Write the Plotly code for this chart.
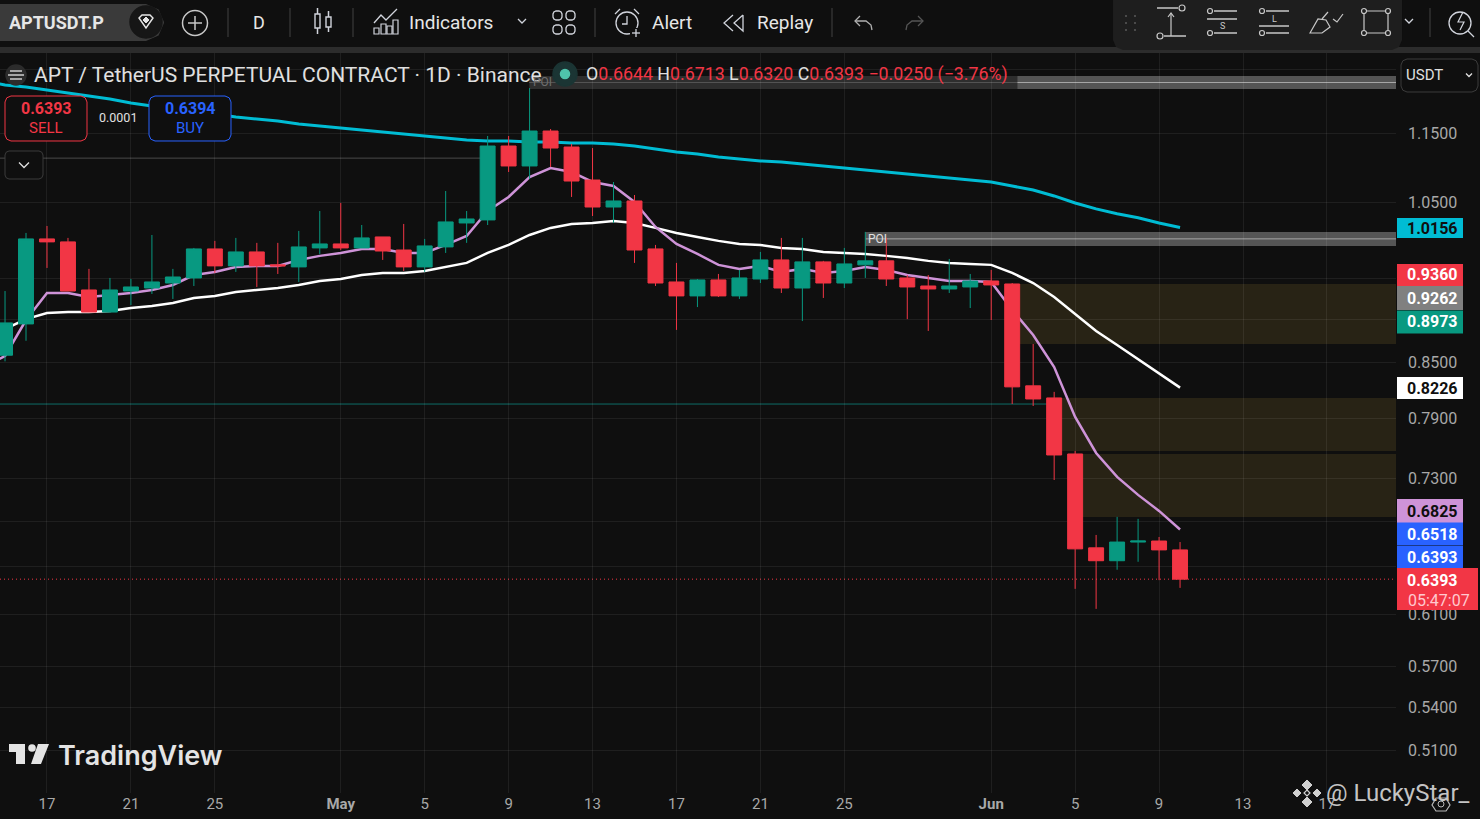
import pandas as pd
import plotly.graph_objects as go

W, H = 1480, 819
BG = '#0f0f0f'
UP, DOWN = '#089981', '#f23645'
FONT = 'Roboto'
X_END = '2025-06-20 07:00'
X_START = '2025-04-14 18:15'

# daily candles, 15 Apr to 10 Jun
candle_dates = pd.date_range('2025-04-15', '2025-06-10').strftime('%Y-%m-%d').tolist()
opens = [.8584, .8945, 1.0004, .9965, .9354, .9086, .9341, .9378, .9440, .9503, .9873, .9655, .9834, .9668, .9642, .9886,
         .9938, .9886, 1.0030, .9859, .9642, .9899, 1.0216, 1.0257, 1.1305, 1.1012, 1.1530, 1.1290, 1.0810, 1.0433, 1.0516,
         .9873, .9453, .9281, .9478, .9281, .9490, .9731, .9378, .9706, .9440, .9668, .9719, .9503, .9403, .9366, .9391,
         .9465, .9428, .8245, .8115, .7538, .6662, .6550, .6713, .6722, .6644]
highs = [.9341, 1.0083, 1.0176, 1.0017, .9617, .9503, .9490, 1.0056, .9617, .9886, .9978, 1.0017, .9952, .9952, 1.0110, 1.0378,
         1.0488, 1.0189, 1.0030, 1.0203, 1.0004, 1.0655, 1.0378, 1.1455, 1.1455, 1.2201, 1.1561, 1.1336, 1.1275, 1.0782, 1.0599,
         .9925, .9693, .9490, .9553, .9604, .9834, 1.0017, 1.0017, .9719, .9886, 1.0097, 1.0017, .9540, .9540, .9744, .9553,
         .9604, .9440, .8712, .8180, .7568, .6776, .6939, .6921, .6758, .6713]
lows = [.8515, .8749, .9629, .9341, .9086, .9086, .9170, .9305, .9244, .9403, .9566, .9579, .9391, .9553, .9453, .9808,
        .9859, .9886, .9731, .9591, .9579, .9821, .9952, 1.0189, 1.0925, 1.0825, 1.0997, 1.0572, 1.0310, 1.0216, .9693,
        .9403, .8875, .9146, .9268, .9244, .9440, .9317, .8979, .9256, .9378, .9503, .9403, .9002, .8863, .9317, .9134,
        .8991, .8050, .8029, .7284, .6312, .6148, .6473, .6541, .6385, .6320]
closes = [.8957, 1.0004, .9965, .9341, .9086, .9354, .9391, .9453, .9515, .9873, .9655, .9834, .9655, .9655, .9899, .9938,
          .9886, 1.0017, .9846, .9642, .9912, 1.0230, 1.0270, 1.1305, 1.1012, 1.1530, 1.1275, 1.0796, 1.0433, 1.0516, .9859,
          .9440, .9281, .9478, .9281, .9503, .9731, .9378, .9706, .9440, .9680, .9719, .9490, .9391, .9366, .9403, .9465,
          .9416, .8234, .8104, .7528, .6653, .6550, .6713, .6722, .6644, .6393]

# moving averages, 14 Apr to 10 Jun
line_dates = pd.date_range('2025-04-14', '2025-06-10').strftime('%Y-%m-%d').tolist()
ma_purple = [.8450, .8576, .8991, .9317, .9317, .9268, .9293, .9317, .9354, .9416, .9540, .9579, .9642, .9655, .9655, .9731, .9783,
             .9821, .9873, .9873, .9821, .9821, .9925, 1.0043, 1.0378, 1.0572, 1.0853, 1.0982, 1.0925, 1.0782, 1.0725, 1.0502,
             1.0163, .9938, .9808, .9668, .9617, .9655, .9579, .9617, .9566, .9591, .9642, .9604, .9540, .9503, .9465, .9465,
             .9453, .9110, .8816, .8452, .7914, .7548, .7314, .7143, .6994, .6825]
ma_white = [.8816, .8886, .9002, .9074, .9086, .9086, .9098, .9134, .9158, .9195, .9256, .9281, .9329, .9354, .9378, .9416, .9465,
            .9490, .9540, .9566, .9566, .9591, .9642, .9693, .9821, .9925, 1.0056, 1.0150, 1.0203, 1.0216, 1.0243, 1.0216,
            1.0150, 1.0083, 1.0030, .9978, .9938, .9925, .9886, .9873, .9834, .9821, .9808, .9783, .9757, .9719, .9693, .9680,
            .9668, .9566, .9440, .9268, .9062, .8863, .8700, .8538, .8386, .8226]
ma_teal = [1.2314, 1.2250, 1.2217, 1.2169, 1.2121, 1.2074, 1.2026, 1.1963, 1.1916, 1.1869, 1.1822, 1.1791, 1.1745, 1.1714, 1.1683, 1.1637, 1.1606,
           1.1576, 1.1545, 1.1515, 1.1485, 1.1455, 1.1425, 1.1395, 1.1380, 1.1380, 1.1365, 1.1365, 1.1350, 1.1350, 1.1336, 1.1305,
           1.1261, 1.1216, 1.1187, 1.1143, 1.1114, 1.1085, 1.1070, 1.1041, 1.1012, 1.0983, 1.0954, 1.0925, 1.0896, 1.0868, 1.0839, 1.0810,
           1.0782, 1.0725, 1.0670, 1.0586, 1.0488, 1.0407, 1.0340, 1.0287, 1.0216, 1.0156]

# axis ticks, the ones behind the price tags have no visible label
price_ticks = [1.25, 1.15, 1.05, .95, .90, .85, .79, .73, .69, .65, .61, .57, .54, .51]
price_labels = ['', '1.1500', '1.0500', '', '', '0.8500', '0.7900', '0.7300', '', '', '0.6100', '0.5700', '0.5400', '0.5100']
date_ticks = ['2025-04-17', '2025-04-21', '2025-04-25', '2025-05-01', '2025-05-05', '2025-05-09', '2025-05-13', '2025-05-17',
              '2025-05-21', '2025-05-25', '2025-06-01', '2025-06-05', '2025-06-09', '2025-06-13', '2025-06-17']
date_labels = ['17', '21', '25', '<b>May</b>', '5', '9', '13', '17', '21', '25', '<b>Jun</b>', '5', '9', '13', '17']

# price levels drawn on the chart
poi_upper = (1.2396, 1.2185)
poi_lower = (1.0097, .9912)
gap_zones = [('2025-06-02', .9428, .8712), ('2025-06-04', .8115, .7568), ('2025-06-05', .7538, .6939)]
last_close = .6393
teal_level = .8050
grey_level = 1.1126

# price tags on the right: text, centre y in px, fill, text colour
tag_texts = ['1.0156', '0.9360', '0.9262', '0.8973', '0.8226', '0.6825', '0.6518', '0.6393']
tag_rows = [(228, 20, '#00bcd4', '#0f0f0f'), (275, 22, DOWN, '#ffffff'), (298, 24, '#808080', '#ffffff'),
            (322, 23, UP, '#ffffff'), (388, 22, '#ffffff', '#0f0f0f'), (511, 24, '#ce93d8', '#0f0f0f'),
            (534, 23, '#2962ff', '#ffffff'), (557, 22, '#2962ff', '#ffffff')]

shapes = []
notes = []


def px(x):
    return x / W


def py(y):
    return 1 - y / H


def rect(x0, y0, x1, y1, fill=None, color=None, width=1, layer='above'):
    shapes.append(dict(type='rect', xref='paper', yref='paper', x0=px(x0), x1=px(x1), y0=py(y0), y1=py(y1),
                       fillcolor=fill, line=dict(color=color or 'rgba(0,0,0,0)', width=width if color else 0), layer=layer))


def seg(pts, color='#d1d4dc', width=1.5, fill=None, close=False):
    path = 'M ' + ' L '.join(f'{px(x):.5f} {py(y):.5f}' for x, y in pts) + (' Z' if close else '')
    shapes.append(dict(type='path', xref='paper', yref='paper', path=path, fillcolor=fill,
                       line=dict(color=color, width=width)))


def round_box(x0, y0, x1, y1, r, fill=None, color=None, width=1):
    pts = [(x0 + r, y0), (x1 - r, y0), (x1 - r * .3, y0 + r * .3), (x1, y0 + r), (x1, y1 - r), (x1 - r * .3, y1 - r * .3),
           (x1 - r, y1), (x0 + r, y1), (x0 + r * .3, y1 - r * .3), (x0, y1 - r), (x0, y0 + r), (x0 + r * .3, y0 + r * .3)]
    seg(pts, color=color or 'rgba(0,0,0,0)', width=width, fill=fill, close=True)


def circle(cx, cy, r, fill=None, color='#d1d4dc', width=1.5):
    shapes.append(dict(type='circle', xref='paper', yref='paper', x0=px(cx - r), x1=px(cx + r), y0=py(cy - r), y1=py(cy + r),
                       fillcolor=fill, line=dict(color=color, width=width)))


def text(x, y, s, size=14, color='#d1d4dc', anchor='left', font=FONT, weight=None):
    f = dict(family=font, size=size, color=color)
    if weight:
        f['weight'] = weight
    notes.append(dict(xref='paper', yref='paper', x=px(x), y=py(y), text=s, showarrow=False, xanchor=anchor, yanchor='middle',
                      font=f, borderpad=0, borderwidth=0))


def chevron(cx, cy, color='#d1d4dc', s=4):
    seg([(cx - s, cy - s / 2), (cx, cy + s / 2), (cx + s, cy - s / 2)], color=color, width=1.3)


def draw_toolbar():
    rect(0, 0, W, 47, fill=BG)
    rect(0, 47, W, 53, fill='#2c2c2c')
    round_box(-20, 4, 164, 41, 18, fill='#3a3a3a')
    circle(146, 22, 16, fill='#161616', color='#161616')
    seg([(139, 18), (142, 15), (150, 15), (153, 18), (146, 28)], color='#e6e6e6', width=1.4, close=True)
    seg([(146, 17), (149, 20), (146, 23), (143, 20)], color='#e6e6e6', width=1, fill='#e6e6e6', close=True)
    text(9, 22, '<b>APTUSDT.P</b>', size=18, color='#e6e6e6')
    circle(195, 23, 12.5, color='#c8c8c8')
    seg([(188, 23), (202, 23)], color='#c8c8c8')
    seg([(195, 16), (195, 30)], color='#c8c8c8')
    for x in (228, 290, 353, 595, 832):
        seg([(x, 8), (x, 37)], color='#3a3a3a', width=1.2)
    text(259, 22, 'D', size=18, color='#e6e6e6', anchor='center')
    # candle icon
    rect(315, 14, 320, 28, color='#d1d4dc', width=1.4)
    seg([(317.5, 8), (317.5, 14)])
    seg([(317.5, 28), (317.5, 34)])
    rect(326, 17, 331, 27, color='#d1d4dc', width=1.4)
    seg([(328.5, 11), (328.5, 17)])
    seg([(328.5, 27), (328.5, 32)])
    # indicators icon
    seg([(374, 23), (381, 15), (386, 20), (397, 9)], width=1.3)
    for x0, y0 in ((374, 28), (381, 24), (387, 26), (393, 20)):
        rect(x0, y0, x0 + 5, 34, color='#d1d4dc', width=1.2)
    text(409, 22, 'Indicators', size=19, color='#e6e6e6')
    chevron(522, 21)
    for x0, y0 in ((553, 11), (566, 11), (553, 25), (566, 25)):
        round_box(x0, y0, x0 + 9, y0 + 9, 3, color='#d1d4dc', width=1.3)
    # alert icon
    circle(627, 23, 11, color='#d1d4dc', width=1.3)
    seg([(627, 16), (627, 24), (622, 24)], width=1.3)
    seg([(615, 14), (620, 9)], width=1.3)
    seg([(634, 9), (639, 14)], width=1.3)
    rect(630, 28, 642, 38, fill=BG)
    seg([(636, 29), (636, 37)], width=1.3)
    seg([(632, 33), (640, 33)], width=1.3)
    text(652, 22, 'Alert', size=19, color='#e6e6e6')
    # replay icon
    seg([(733, 15), (724, 23), (733, 31)], width=1.3)
    seg([(743, 15), (734, 23), (743, 31), (743, 15)], width=1.3)
    text(757, 22, 'Replay', size=19, color='#e6e6e6')
    # undo and redo
    seg([(860, 16), (855, 21), (860, 26)], color='#b0b0b0', width=1.3)
    seg([(855, 21), (866, 21), (871, 25), (872, 30)], color='#b0b0b0', width=1.3)
    seg([(918, 16), (923, 21), (918, 26)], color='#555555', width=1.3)
    seg([(923, 21), (912, 21), (907, 25), (906, 30)], color='#555555', width=1.3)
    # floating drawing panel
    round_box(1113, -10, 1402, 50, 10, fill='#1e1e1e')
    for x in (1125, 1134):
        for y in (15, 22, 29):
            rect(x, y, x + 2, y + 2, fill='#4a4a4a')
    seg([(1157, 8), (1178, 8)], color='#c8c8c8')
    circle(1182, 8, 3, color='#c8c8c8', width=1.2)
    seg([(1164, 36), (1186, 36)], color='#c8c8c8')
    circle(1160, 36, 3, color='#c8c8c8', width=1.2)
    seg([(1171, 36), (1171, 13)], color='#c8c8c8', width=1.2)
    seg([(1168, 17), (1171, 13), (1174, 17)], color='#c8c8c8', width=1.2)
    for x0, y_mid, lab, lab_y in ((1207, 19, 'S', 26), (1259, 26, 'L', 19)):
        circle(x0 + 3, 11, 2.5, color='#c8c8c8', width=1.2)
        circle(x0 + 3, 33, 2.5, color='#c8c8c8', width=1.2)
        seg([(x0 + 7, 11), (x0 + 30, 11)], color='#c8c8c8')
        seg([(x0 + 7, 33), (x0 + 30, 33)], color='#c8c8c8')
        seg([(x0, y_mid), (x0 + 30, y_mid)], color='#c8c8c8')
        text(x0 + 15, lab_y, lab, size=9, color='#c8c8c8', anchor='center')
    seg([(1310, 33), (1318, 19), (1326, 20), (1330, 27), (1322, 33)], color='#c8c8c8', width=1.2, close=True)
    seg([(1322, 19), (1328, 12)], color='#c8c8c8', width=1.2)
    seg([(1333, 19), (1337, 22), (1343, 14)], color='#c8c8c8', width=1.2)
    rect(1364, 11, 1388, 33, color='#c8c8c8', width=1.2)
    for x, y in ((1364, 11), (1388, 11), (1364, 33), (1388, 33)):
        circle(x, y, 2.5, fill='#1e1e1e', color='#c8c8c8', width=1.2)
    chevron(1409, 21)
    seg([(1430, 8), (1430, 37)], color='#3a3a3a', width=1.2)
    circle(1460, 23, 11, color='#d1d4dc', width=1.3)
    seg([(1468, 31), (1474, 37)], width=1.3)
    seg([(1463, 12), (1458, 22), (1464, 22), (1460, 30)], width=1.2)


def draw_header():
    circle(16, 75, 10, fill='#2c2c2c', color='#2c2c2c')
    for y, half in ((71, 6), (75, 8), (79, 6)):
        seg([(16 - half, y), (16 + half, y)], color='#e6e6e6', width=1.3)
    text(34, 75, 'APT / TetherUS PERPETUAL CONTRACT · 1D · Binance', size=21, color='#e0e0e0')
    circle(565, 74, 12, fill='#1b3534', color='#1b3534')
    circle(565, 74, 4.5, fill='#4fc3ab', color='#4fc3ab')
    red = f'<span style="color:{DOWN}">'
    text(586, 74, f'O{red}0.6644</span> H{red}0.6713</span> L{red}0.6320</span> C{red}0.6393</span> '
                  f'{red}−0.0250 (−3.76%)</span>', size=17.8, color='#e0e0e0')
    # sell, buy and collapse buttons
    round_box(5, 96, 87, 141, 6, fill=BG, color=DOWN)
    text(46, 109, '<b>0.6393</b>', size=16, color=DOWN, anchor='center')
    text(46, 128, 'SELL', size=15, color=DOWN, anchor='center')
    text(118, 118, '0.0001', size=12.5, color='#e0e0e0', anchor='center')
    round_box(149, 96, 231, 141, 6, fill=BG, color='#2962ff')
    text(190, 109, '<b>0.6394</b>', size=16, color='#2962ff', anchor='center')
    text(190, 128, 'BUY', size=15, color='#2962ff', anchor='center')
    round_box(5, 151, 43, 179, 4, fill=BG, color='#3c3c3c')
    chevron(24, 165, color='#e0e0e0', s=5)
    round_box(1401, 59, 1478, 92, 6, fill=BG, color='#3c3c3c')
    text(1406, 75, 'USDT', size=15, color='#e0e0e0')
    chevron(1469, 75, color='#e0e0e0', s=3)


def draw_tags():
    for s, (yc, h, fill, fg) in zip(tag_texts, tag_rows):
        rect(1397, yc - h / 2, 1463, yc + h / 2, fill=fill)
        text(1432, yc, f'<b>{s}</b>', size=16, color=fg, anchor='center')
    rect(1397, 568, 1478, 610, fill=DOWN)
    text(1432, 580, '<b>0.6393</b>', size=16, color='#ffffff', anchor='center')
    text(1439, 600, '05:47:07', size=16, color='#ffc9cf', anchor='center')


def draw_branding():
    # tradingview mark
    mark = '#e4e4e4'
    seg([(9, 744), (25, 744), (25, 764), (16, 764), (16, 752), (9, 752)], color=mark, width=0, fill=mark, close=True)
    circle(32, 748, 3.8, fill=mark, color=mark, width=0)
    seg([(38, 744), (49, 744), (41, 764), (31, 764)], color=mark, width=0, fill=mark, close=True)
    text(58, 755, 'TradingView', size=27, color=mark, font='Inter', weight=600)
    # watermark
    ink = '#d0d0d0'
    for cx, cy, r in ((1307, 785, 5), (1297, 793, 4), (1317, 793, 4), (1307, 802, 5)):
        seg([(cx, cy - r), (cx + r, cy), (cx, cy + r), (cx - r, cy)], color=ink, width=1, fill=ink, close=True)
    seg([(1307, 790), (1310, 793), (1307, 796), (1304, 793)], color=ink, width=1.2, close=True)
    text(1326, 793, '@ LuckyStar_', size=24, color='#c4c4c4')
    # small badge under the name
    seg([(1436, 798), (1446, 798), (1450, 805), (1446, 811), (1436, 811), (1432, 805)], color='#b8b8b8', width=1.2, close=True)
    circle(1441, 804, 3, color='#b8b8b8', width=1)


def chart_levels():
    out = []
    for start, top, bot in gap_zones:
        out.append(dict(type='rect', xref='x', yref='y', x0=start, x1=X_END, y0=top, y1=bot,
                        fillcolor='rgba(190,155,60,0.15)', line=dict(width=0), layer='below'))
    for start, (top, bot) in (('2025-05-10', poi_upper), ('2025-05-26', poi_lower)):
        out.append(dict(type='rect', xref='x', yref='y', x0=start, x1=X_END, y0=top, y1=bot,
                        fillcolor='#555555', line=dict(width=0), layer='below'))
        mid = (top + bot) / 2
        out.append(dict(type='line', xref='x', yref='y', x0=start, x1=X_END, y0=mid, y1=mid,
                        line=dict(color='#a6a6a6', width=1), layer='below'))
    # dimmed part of the upper zone under the legend
    out.append(dict(type='rect', xref='x', yref='y', x0='2025-05-10', x1='2025-06-02 06:00', y0=poi_upper[0], y1=poi_upper[1],
                    fillcolor='rgba(15,15,15,0.55)', line=dict(width=0), layer='below'))
    out.append(dict(type='line', xref='x', yref='y', x0=X_START, x1='2025-06-04', y0=teal_level, y1=teal_level,
                    line=dict(color='#0d6b66', width=1), layer='below'))
    out.append(dict(type='line', xref='x', yref='y', x0=X_START, x1='2025-05-08', y0=grey_level, y1=grey_level,
                    line=dict(color='#4a4a4a', width=1), layer='below'))
    out.append(dict(type='line', xref='x', yref='y', x0=X_START, x1=X_END, y0=last_close, y1=last_close,
                    line=dict(color=DOWN, width=1, dash='1px,3px'), layer='below'))
    return out


fig = go.Figure()
for values, color, lw in ((ma_teal, '#00bcd4', 3), (ma_white, '#ffffff', 2.5), (ma_purple, '#ce93d8', 2.5)):
    fig.add_trace(go.Scatter(x=line_dates, y=values, mode='lines', line=dict(color=color, width=lw), showlegend=False, hoverinfo='skip'))
fig.add_trace(go.Candlestick(
    x=candle_dates, open=opens, high=highs, low=lows, close=closes, showlegend=False, whiskerwidth=0, zorder=1,
    increasing=dict(line=dict(color=UP, width=1), fillcolor=UP),
    decreasing=dict(line=dict(color=DOWN, width=1), fillcolor=DOWN)))

draw_toolbar()
draw_header()
draw_tags()
draw_branding()
text(533, 82, 'POI', size=12, color='#6e6e6e')
text(868, 239, 'POI', size=12, color='#e0e0e0')

GRID = 'rgba(255,255,255,0.07)'
fig.update_layout(
    width=W, height=H, margin=dict(l=0, r=0, t=0, b=0), paper_bgcolor=BG, plot_bgcolor=BG,
    showlegend=False, font=dict(family=FONT), boxgap=0.05, boxgroupgap=0.25,
    shapes=chart_levels() + shapes, annotations=notes,
    xaxis=dict(type='date', domain=[0, 1396 / W], range=[X_START, X_END], rangeslider=dict(visible=False),
               tickvals=date_ticks, ticktext=date_labels, tickfont=dict(size=15, color='#a8a8a8'), ticks='', ticklen=0,
               gridcolor=GRID, gridwidth=1, showline=False, zeroline=False, anchor='y'),
    yaxis=dict(type='log', side='right', domain=[(H - 793) / H, (H - 52) / H], range=[-0.31651, 0.10700],
               tickvals=price_ticks, ticktext=price_labels, tickfont=dict(size=16, color='#a8a8a8'),
               ticks='', gridcolor=GRID, gridwidth=1, showline=False, zeroline=False, anchor='x', ticklabelstandoff=11),
)

fig.write_html('out.html', config={'displayModeBar': False},
               post_script="document.body.style.margin='0';document.body.style.background='#0f0f0f';document.documentElement.style.overflow='hidden';")
